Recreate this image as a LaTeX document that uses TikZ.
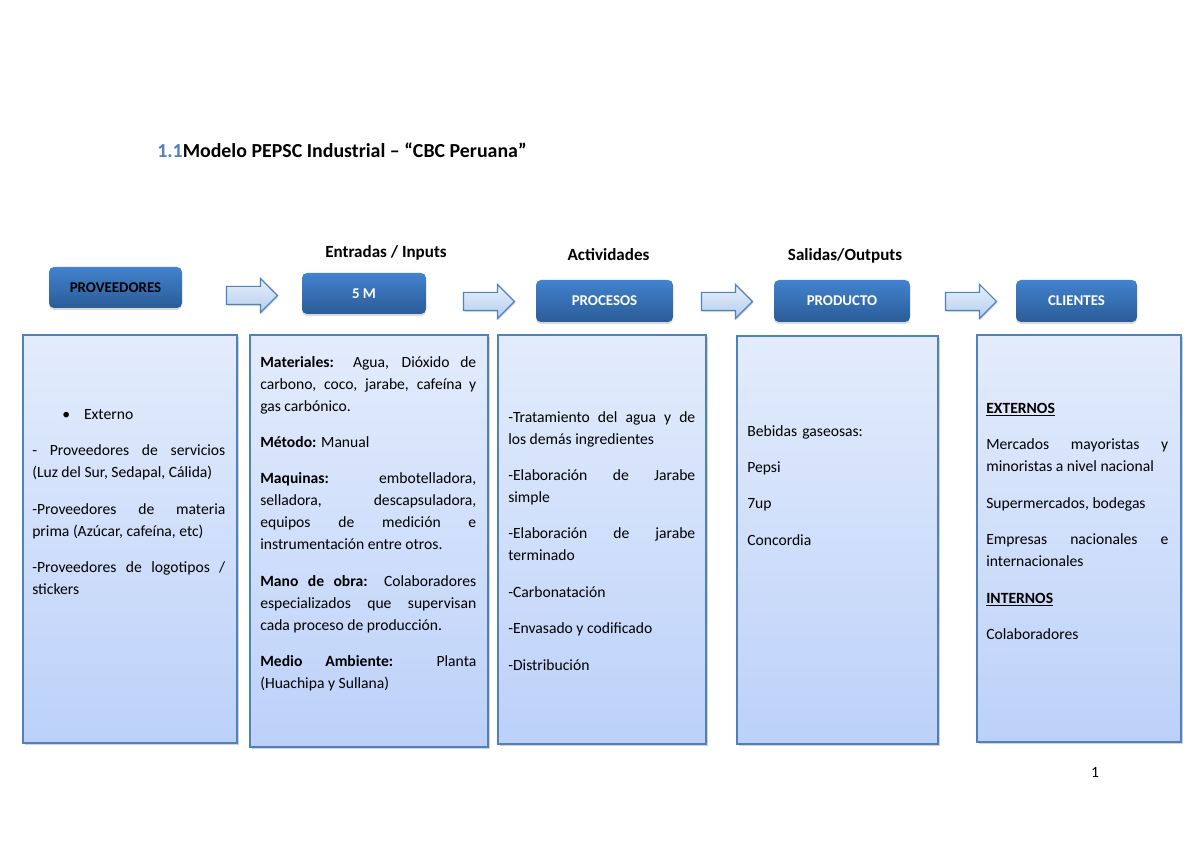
\documentclass[tikz,border=0pt]{standalone}
\usepackage{fontspec}
\setmainfont{Carlito}
\usetikzlibrary{shapes.arrows,shadows,positioning}

\newdimen\px \px=0.2475mm
\definecolor{azultit}{HTML}{4F81BD}
\definecolor{cabsup}{HTML}{4382CE}
\definecolor{cabinf}{HTML}{2A5C98}
\definecolor{borde}{HTML}{4F81BD}
\definecolor{cajasup}{HTML}{E3ECFC}
\definecolor{cajainf}{HTML}{BCD1F9}
\definecolor{flechasup}{HTML}{E8F0FB}
\definecolor{flechainf}{HTML}{B4CDEE}

\hyphenpenalty=10000 \exhyphenpenalty=10000
\tolerance=9999 \emergencystretch=2em
\newcommand\cajatexto{\fontsize{11}{15.44}\selectfont\setlength{\parindent}{0pt}\setlength{\parskip}{14.5\px}\relax}

\begin{document}
\begin{tikzpicture}[
  x=0.2475mm, y={(0,-0.2475mm)},
  cab/.style={rounded corners=5\px, top color=cabsup, bottom color=cabinf, text=white,
    font=\fontsize{10.5}{12}\selectfont\bfseries, inner sep=0pt,
    drop shadow={shadow xshift=0pt, shadow yshift=-2\px, opacity=0.3}},
  etiq/.style={font=\fontsize{12}{14}\selectfont\bfseries, inner sep=0pt},
  flecha/.style={single arrow, draw=borde, line width=0.8pt, top color=flechasup, bottom color=flechainf,
    inner xsep=0pt, inner ysep=8.5\px, minimum height=51\px, single arrow head extend=8\px,
    drop shadow={shadow xshift=1\px, shadow yshift=-1.5\px, opacity=0.25}},
  caja/.style={draw=borde, line width=1.5pt, top color=cajasup, bottom color=cajainf,
    anchor=north west, inner sep=0pt,
    drop shadow={shadow xshift=2\px, shadow yshift=-2\px, opacity=0.35}},
  txt/.style={align=justify, inner sep=0pt, font=\cajatexto}
]
\useasboundingbox (0,0) rectangle (1200,848);

% titulo
\node[anchor=west, inner sep=0pt, font=\fontsize{14}{16}\selectfont\bfseries] (titulo) at (157,150)
  {\textcolor{azultit}{1.1}Modelo PEPSC Industrial – “CBC Peruana”};

% cabeceras
\node[cab, text=black, minimum width=133\px, minimum height=41\px] (prov) at (115.5,287.5) {PROVEEDORES};
\node[cab, minimum width=124\px, minimum height=41\px] (cinco) at (364,293.5) {5 M};
\node[cab, minimum width=137\px, minimum height=42\px] (proc) at (604.5,301) {PROCESOS};
\node[cab, minimum width=136\px, minimum height=42\px] (prod) at (842,301) {PRODUCTO};
\node[cab, minimum width=121\px, minimum height=42\px] (cli) at (1076.5,301) {CLIENTES};

\node[etiq, above=12\px of cinco, xshift=22\px] (lbl1) {Entradas / Inputs};
\node[etiq, above=19\px of proc, xshift=4\px] (lbl2) {Actividades};
\node[etiq, above=16\px of prod, xshift=3\px] (lbl3) {Salidas/Outputs};

% flechas
\node[flecha] (f1) at (247.5,295.5) {};
\node[flecha] (f2) at (484.5,301.5) {};
\node[flecha] (f3) at (722.5,301.5) {};
\node[flecha] (f4) at (966.5,301.5) {};

% cajas
\node[caja, minimum width=214\px, minimum height=408\px] (caja1) at (22,334) {};
\node[caja, minimum width=238\px, minimum height=412\px] (caja2) at (249,334) {};
\node[caja, minimum width=208\px, minimum height=409\px] (caja3) at (497,334) {};
\node[caja, minimum width=201\px, minimum height=408\px] (caja4) at (736,335) {};
\node[caja, minimum width=204\px, minimum height=407\px] (caja5) at (976,334) {};

\node[txt, text width=193\px, below right=75\px and 10\px of caja1.north west] (t1) {%
  \hspace*{30\px}\textbullet\hspace{14\px}Externo\par
  - Proveedores de servicios\linebreak (Luz del Sur, Sedapal, Cálida)\par
  -Proveedores de materia\linebreak prima (Azúcar, cafeína, etc)\par
  -Proveedores de logotipos /\linebreak stickers};

\node[txt, text width=216\px, below right=22\px and 11\px of caja2.north west] (t2) {%
  \textbf{Materiales:} Agua, Dióxido de\linebreak carbono, coco, jarabe, cafeína y\linebreak gas carbónico.\par
  \textbf{Método:} Manual\par
  \textbf{Maquinas:} embotelladora,\linebreak selladora, descapsuladora,\linebreak equipos de medición e\linebreak instrumentación entre otros.\par
  \textbf{Mano de obra:} Colaboradores\linebreak especializados que supervisan\linebreak cada proceso de producción.\par
  \textbf{Medio Ambiente:} Planta\linebreak (Huachipa y Sullana)};

\node[txt, text width=187\px, below right=77\px and 11\px of caja3.north west] (t3) {%
  -Tratamiento del agua y de\linebreak los demás ingredientes\par
  -Elaboración de Jarabe\linebreak simple\par
  -Elaboración de jarabe\linebreak terminado\par
  -Carbonatación\par
  -Envasado y codificado\par
  -Distribución};

\node[txt, text width=170\px, align=left, below right=90\px and 11\px of caja4.north west] (t4) {%
  Bebidas gaseosas:\par
  Pepsi\par
  7up\par
  Concordia};

\node[txt, text width=182\px, below right=69\px and 10\px of caja5.north west] (t5) {%
  \underline{\textbf{EXTERNOS}}\par
  Mercados mayoristas y\linebreak minoristas a nivel nacional\par
  Supermercados, bodegas\par
  Empresas nacionales e\linebreak internacionales\par
  \underline{\textbf{INTERNOS}}\par
  Colaboradores};

% numero de pagina
\node[font=\fontsize{11}{13}\selectfont, inner sep=0pt] (pag) at (1095,772) {1};
\end{tikzpicture}
\end{document}
